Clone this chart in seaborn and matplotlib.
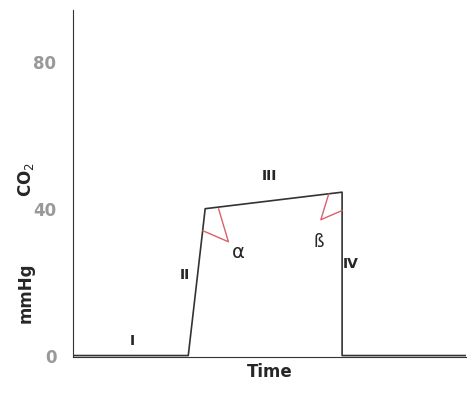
import matplotlib
matplotlib.use("Agg")
import matplotlib.pyplot as plt
import seaborn as sns
import pandas as pd

time = [0, 29.3, 33.6, 68.4, 68.4, 100]
co2 = [0, 0, 40, 44.5, 0, 0]
yticks = [0, 40, 80]
phases = ["I", "II", "III", "IV"]
phase_x = [15, 28.5, 50, 70.5]
phase_y = [4, 22, 49, 25]

sns.set_style("white")
fig = plt.figure(figsize=(4.74, 4.18), dpi=100)
ax = fig.add_axes([0.154, 0.145, 0.83, 0.83])
df = pd.DataFrame({"t": time, "c": co2})
sns.lineplot(data=df, x="t", y="c", sort=False, estimator=None, color="#333333", lw=1.2, ax=ax)
ax.set_xlim(0, 100)
ax.set_ylim(-0.5, 94)
ax.set_xticks([])
ax.set_yticks(yticks)
ax.set_yticklabels([str(v) for v in yticks], color="#999999", fontsize=12, fontweight="bold")
ax.tick_params(axis="y", length=0, pad=12)
for s in ["top", "right"]:
    ax.spines[s].set_visible(False)
for s in ["left", "bottom"]:
    ax.spines[s].set_color("#333333")
ax.set_xlabel("Time", fontsize=12, fontweight="bold")
ax.set_ylabel("")
fig.text(0.055, 0.30, "mmHg", rotation=90, fontsize=12, fontweight="bold", ha="center", va="center")
fig.text(0.055, 0.57, "CO$_2$", rotation=90, fontsize=12, fontweight="bold", ha="center", va="center")
for p, x, y in zip(phases, phase_x, phase_y):
    ax.text(x, y, p, fontsize=10, fontweight="bold", ha="center", va="center")
ax.text(42, 28, "α", fontsize=14, ha="center", va="center")
ax.text(62.5, 31, "ß", fontsize=12, ha="center", va="center")
red = "#d9606a"
ax.plot([37, 39.5, 33], [40, 31, 34], color=red, lw=1)
ax.plot([65, 63, 68.4], [44, 37, 39.5], color=red, lw=1)
fig.savefig("out.png", dpi=100)
